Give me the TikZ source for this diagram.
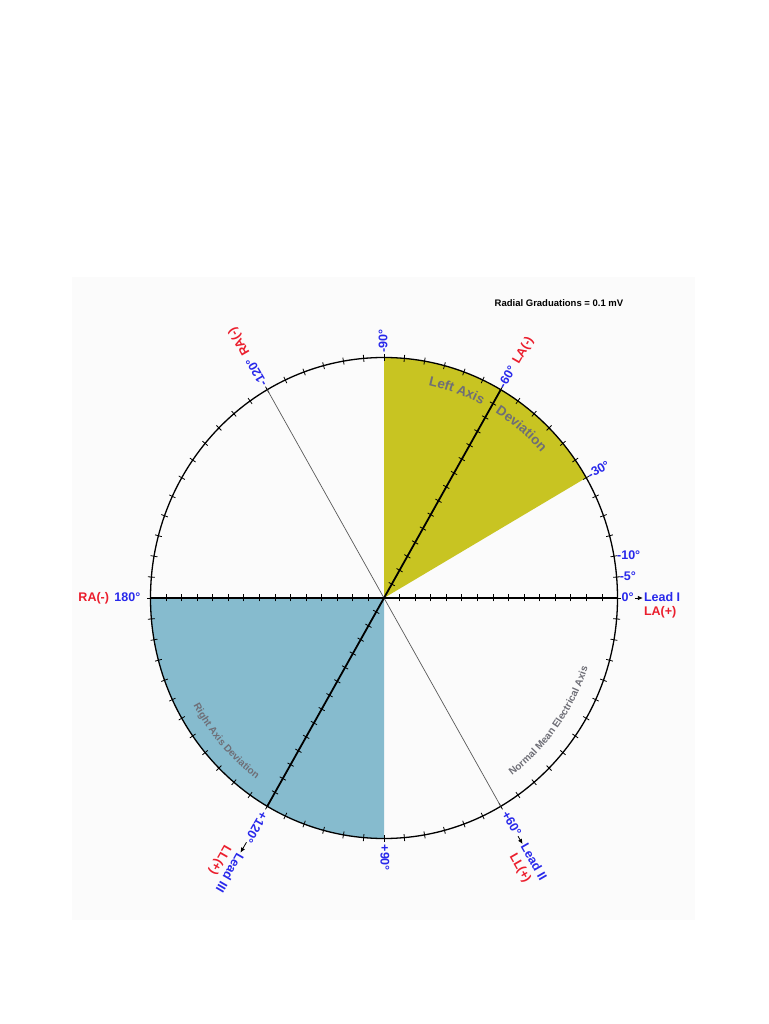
\documentclass[tikz,border=0pt]{standalone}
\usepackage{fontspec}
\setmainfont{Liberation Sans}
\usepackage{tikz}
\usetikzlibrary{arrows.meta,positioning,calc,decorations.text}
\definecolor{ecgblue}{RGB}{40,40,235}
\definecolor{ecgred}{RGB}{235,30,45}
\definecolor{axgray}{RGB}{110,110,118}
\definecolor{lad}{RGB}{200,196,34}
\definecolor{rad}{RGB}{134,187,206}
\definecolor{paper}{RGB}{251,251,251}

\begin{document}
\begin{tikzpicture}
  [x=1pt,y=1pt,
    every node/.style={inner sep=1pt,text height=9.3pt,text depth=2.6pt,
      font=\fontsize{12.5}{14}\selectfont\bfseries},
    blab/.style={text=ecgblue},
    rlab/.style={text=ecgred},
    tick/.style={line width=0.8pt},
    axis/.style={line width=1.8pt},
    ring/.style={line width=1.3pt},
    lead/.style={-{Latex[length=5pt,width=4.5pt]},line width=0.8pt}]
  \useasboundingbox (-384,-426) rectangle (384,598);
  \fill[paper] (-312,321) rectangle (311,-322);
  % shaded sectors
  \fill[lad] (0,0) -- (90:233.5 and 240.5)
    arc[start angle=90,end angle=30,x radius=233.5,y radius=240.5] -- cycle;
  \fill[rad] (0,0) -- (180:233.5 and 240.5)
    arc[start angle=180,end angle=270,x radius=233.5,y radius=240.5] -- cycle;
  % points on the circle
  \coordinate (o) at (0,0);
  \coordinate (p0) at (0:233.5 and 240.5);
  \coordinate (pm5) at (5:233.5 and 240.5);
  \coordinate (pm10) at (10:233.5 and 240.5);
  \coordinate (pm30) at (30:233.5 and 240.5);
  \coordinate (pm60) at (60:233.5 and 240.5);
  \coordinate (pm90) at (90:233.5 and 240.5);
  \coordinate (pm120) at (120:233.5 and 240.5);
  \coordinate (p180) at (180:233.5 and 240.5);
  \coordinate (p120) at (240:233.5 and 240.5);
  \coordinate (p90) at (270:233.5 and 240.5);
  \coordinate (p60) at (300:233.5 and 240.5);
  % circle and axes
  \draw[ring] (o) ellipse [x radius=233.5,y radius=240.5];
  \foreach \a in {0,5,...,355}
    \draw[tick] (\a:230 and 237) -- (\a:237 and 244);
  \draw[line width=0.7pt,black!65] (pm120) -- (p60);
  \draw[axis] (p180) -- (p0);
  \draw[axis] (p120) -- (pm60);
  \foreach \k in {1,...,14} {
    \draw[tick] (\k*15.567,-3.5) -- ++(0,7);
    \draw[tick] (-\k*15.567,-3.5) -- ++(0,7);
  }
  \begin{scope}[rotate=60.73]
    \foreach \k in {1,...,14} {
      \draw[tick] (\k*15.92,-3.5) -- ++(0,7);
      \draw[tick] (-\k*15.92,-3.5) -- ++(0,7);
    }
  \end{scope}
  % curved sector texts
  \path[decorate,decoration={text along path,text align=center,text color=axgray,
      text={|\fontsize{13.5}{14}\selectfont\bfseries|Left Axis}}]
    (90.2:211.3 and 217.7) arc[start angle=90.2,end angle=50.2,x radius=211.3,y radius=217.7];
  \path[decorate,decoration={text along path,text align=center,text color=axgray,
      text={|\fontsize{13.5}{14}\selectfont\bfseries|Deviation}}]
    (70.2:211.3 and 217.7) arc[start angle=70.2,end angle=30.2,x radius=211.3,y radius=217.7];
  \path[decorate,decoration={text along path,text align=center,text color=axgray,
      text={|\fontsize{10}{12}\selectfont\bfseries|Normal Mean Electrical Axis}}]
    (-66:214.8 and 221.3) arc[start angle=-66,end angle=-6,x radius=214.8,y radius=221.3];
  \path[decorate,decoration={text along path,text align=center,text color=axgray,
      text={|\fontsize{10}{12}\selectfont\bfseries|Right Axis Deviation}}]
    (191.5:217.2 and 223.7) arc[start angle=191.5,end angle=251.5,x radius=217.2,y radius=223.7];
  % degree labels
  \node[font=\fontsize{9.5}{11}\selectfont\bfseries] (grad) at (175,294.5) {Radial Graduations = 0.1 mV};
  \node[blab,anchor=west,xshift=2pt] (dm5) at (pm5) {-5°};
  \node[blab,anchor=west,xshift=2pt] (dm10) at (pm10) {-10°};
  \begin{scope}[shift={(p0)}]
    \node[blab,anchor=west] (d0) at (3,0) {0°};
    \node[blab,right=8pt of d0] (lead1) {Lead I};
    \node[rlab,anchor=north west] (laplus) at (lead1.south west) {LA(+)};
    \draw[lead] (d0) -- (lead1);
  \end{scope}
  \begin{scope}[shift={(pm30)},rotate=30,transform shape]
    \node[blab,anchor=west] (dm30) at (2,0) {-30°};
  \end{scope}
  \begin{scope}[shift={(pm60)},rotate=60,transform shape]
    \node[blab,anchor=west] (dm60) at (1,0) {-60°};
    \node[rlab,right=3pt of dm60] (laminus) {LA(-)};
  \end{scope}
  \begin{scope}[shift={(pm90)},rotate=90,transform shape]
    \node[blab,anchor=west] (dm90) at (4,0) {-90°};
  \end{scope}
  \begin{scope}[shift={(pm120)},rotate=120,transform shape]
    \node[blab,anchor=west] (dm120) at (4,0) {-120°};
    \node[rlab,right=3pt of dm120] (raminus) {RA(-)};
  \end{scope}
  \node[blab,anchor=east,xshift=-9pt] (d180) at (p180) {180°};
  \node[rlab,left=3pt of d180] (raminus2) {RA(-)};
  \begin{scope}[shift={(p120)},rotate=240,transform shape]
    \node[blab,anchor=west] (d120) at (6,0) {+120°};
    \node[blab,right=12pt of d120] (lead3) {Lead III};
    \node[rlab,anchor=north west] (llplus3) at (lead3.south west) {LL(+)};
    \draw[lead] (d120) -- (lead3);
  \end{scope}
  \begin{scope}[shift={(p90)},rotate=270,transform shape]
    \node[blab,anchor=west] (d90) at (5,0) {+90°};
  \end{scope}
  \begin{scope}[shift={(p60)},rotate=300,transform shape]
    \node[blab,anchor=west] (d60) at (6,0) {+60°};
    \node[blab,right=9pt of d60] (lead2) {Lead II};
    \node[rlab,anchor=north west,xshift=3pt] (llplus2) at (lead2.south west) {LL(+)};
    \draw[lead] (d60) -- (lead2);
  \end{scope}
\end{tikzpicture}
\end{document}
